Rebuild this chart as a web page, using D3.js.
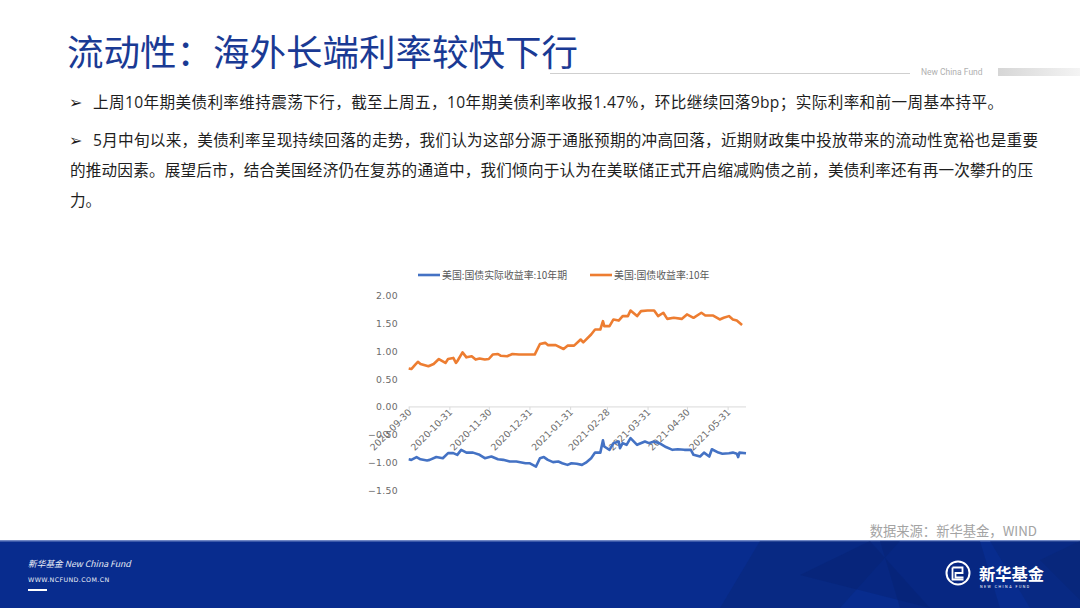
<!DOCTYPE html>
<html>
<head>
<meta charset="utf-8">
<script src="https://cdn.jsdelivr.net/npm/d3@7"></script>
<style>
  html, body { margin: 0; padding: 0; background: #fff; }
  svg { display: block; font-family: "Noto Sans CJK SC", "Noto Sans", sans-serif; }
</style>
</head>
<body>
<svg id="slide" width="1080" height="608"></svg>
<script>
const realDates = ['2020-09-30','2020-10-02','2020-10-06','2020-10-09','2020-10-14','2020-10-16','2020-10-21','2020-10-26','2020-10-30','2020-11-03','2020-11-06','2020-11-09','2020-11-13','2020-11-18','2020-11-23','2020-11-27','2020-12-02','2020-12-07','2020-12-11','2020-12-16','2020-12-21','2020-12-28','2020-12-31','2021-01-05','2021-01-08','2021-01-11','2021-01-14','2021-01-18','2021-01-22','2021-01-25','2021-01-29','2021-02-01','2021-02-05','2021-02-09','2021-02-12','2021-02-16','2021-02-19','2021-02-23','2021-02-25','2021-02-26','2021-03-02','2021-03-05','2021-03-09','2021-03-10','2021-03-12','2021-03-15','2021-03-18','2021-03-23','2021-03-29','2021-04-01','2021-04-05','2021-04-09','2021-04-14','2021-04-19','2021-04-23','2021-04-28','2021-05-03','2021-05-05','2021-05-10','2021-05-13','2021-05-17','2021-05-19','2021-05-24','2021-05-27','2021-06-01','2021-06-04','2021-06-07','2021-06-08','2021-06-09','2021-06-14'];
const realYield = [-0.94,-0.95,-0.90,-0.94,-0.96,-0.95,-0.90,-0.92,-0.83,-0.83,-0.86,-0.77,-0.82,-0.82,-0.86,-0.92,-0.89,-0.94,-0.95,-0.98,-0.98,-1.01,-1.01,-1.07,-0.92,-0.90,-0.95,-0.99,-0.98,-1.01,-1.04,-1.01,-1.02,-1.04,-1.00,-0.92,-0.82,-0.82,-0.60,-0.71,-0.77,-0.65,-0.62,-0.74,-0.65,-0.68,-0.56,-0.68,-0.62,-0.65,-0.62,-0.65,-0.72,-0.77,-0.76,-0.77,-0.77,-0.86,-0.89,-0.82,-0.89,-0.76,-0.82,-0.84,-0.83,-0.82,-0.84,-0.90,-0.82,-0.83];

const nomDates = ['2020-09-30','2020-10-02','2020-10-05','2020-10-07','2020-10-09','2020-10-15','2020-10-19','2020-10-23','2020-10-28','2020-10-30','2020-11-03','2020-11-05','2020-11-06','2020-11-10','2020-11-13','2020-11-17','2020-11-20','2020-11-23','2020-11-27','2020-11-30','2020-12-03','2020-12-07','2020-12-09','2020-12-14','2020-12-18','2020-12-23','2020-12-28','2021-01-04','2021-01-08','2021-01-12','2021-01-14','2021-01-20','2021-01-26','2021-01-29','2021-02-03','2021-02-08','2021-02-10','2021-02-16','2021-02-19','2021-02-23','2021-02-25','2021-02-26','2021-03-02','2021-03-05','2021-03-09','2021-03-12','2021-03-16','2021-03-18','2021-03-23','2021-03-26','2021-03-31','2021-04-05','2021-04-08','2021-04-12','2021-04-15','2021-04-20','2021-04-26','2021-04-30','2021-05-05','2021-05-11','2021-05-14','2021-05-20','2021-05-25','2021-05-28','2021-06-01','2021-06-04','2021-06-07','2021-06-11'];
const nomYield = [0.69,0.68,0.76,0.81,0.77,0.73,0.77,0.86,0.79,0.86,0.88,0.79,0.82,0.98,0.89,0.91,0.85,0.87,0.85,0.86,0.94,0.95,0.92,0.91,0.95,0.94,0.94,0.94,1.13,1.15,1.11,1.11,1.04,1.10,1.10,1.21,1.16,1.30,1.39,1.39,1.54,1.45,1.45,1.57,1.55,1.63,1.63,1.73,1.63,1.72,1.73,1.73,1.63,1.69,1.58,1.60,1.58,1.66,1.60,1.69,1.64,1.64,1.57,1.60,1.63,1.57,1.55,1.47];

const seriesNames = ['美国:国债实际收益率:10年期', '美国:国债收益率:10年'];
const yTicks = [2.00, 1.50, 1.00, 0.50, 0.00, -0.50, -1.00, -1.50];
const xTickDates = ['2020-09-30','2020-10-31','2020-11-30','2020-12-31','2021-01-31','2021-02-28','2021-03-31','2021-04-30','2021-05-31'];
const xDomain = ['2020-09-30', '2021-06-14'];

const titleText = '流动性：海外长端利率较快下行';
const bullet1 = ['上周10年期美债利率维持震荡下行，截至上周五，10年期美债利率收报1.47%，环比继续回落9bp；实际利率和前一周基本持平。'];
const bullet2 = [
  '5月中旬以来，美债利率呈现持续回落的走势，我们认为这部分源于通胀预期的冲高回落，近期财政集中投放带来的流动性宽裕也是重要',
  '的推动因素。展望后市，结合美国经济仍在复苏的通道中，我们倾向于认为在美联储正式开启缩减购债之前，美债利率还有再一次攀升的压',
  '力。'
];
const sourceText = '数据来源：新华基金，WIND';

const parse = d3.timeParse('%Y-%m-%d');
const svg = d3.select('#slide');
const chartFont = '"DejaVu Sans", sans-serif';

// ---------- header ----------
const defs = svg.append('defs');
const grad = defs.append('linearGradient').attr('id', 'hdrGrad');
grad.append('stop').attr('offset', '0%').attr('stop-color', '#d6d6d6');
grad.append('stop').attr('offset', '100%').attr('stop-color', '#f4f4f4');

svg.append('text')
  .attr('x', 67).attr('y', 66)
  .attr('font-size', 36.5)
  .attr('fill', '#1a3a94')
  .text(titleText);

svg.append('line').attr('x1', 550).attr('x2', 910).attr('y1', 73.5).attr('y2', 73.5)
  .attr('stroke', '#cfcfcf').attr('stroke-width', 1);
svg.append('text').attr('x', 921).attr('y', 75)
  .attr('font-size', 8.5).attr('fill', '#b0b0b0')
  .attr('font-family', 'Roboto, sans-serif')
  .text('New China Fund');
svg.append('rect').attr('x', 998).attr('y', 68).attr('width', 82).attr('height', 8)
  .attr('fill', 'url(#hdrGrad)');

// ---------- bullets ----------
const bodyG = svg.append('g').attr('fill', '#1e1e1e').attr('font-size', 15.6)
  .attr('font-family', '"Open Sans", "Noto Sans CJK SC", sans-serif');
const arrow = (yy) => bodyG.append('text').attr('x', 69).attr('y', yy)
  .attr('font-size', 16).attr('font-family', '"DejaVu Sans", sans-serif').text('➢');
arrow(108);
bodyG.append('text').attr('x', 93).attr('y', 108)
  .attr('textLength', 910).attr('lengthAdjust', 'spacing')
  .text(bullet1[0]);
arrow(146);
const b2Len = [945, 963, null];
bullet2.forEach((line, i) => {
  const t = bodyG.append('text')
    .attr('x', i === 0 ? 93 : 70)
    .attr('y', 146 + i * 30)
    .text(line);
  if (b2Len[i]) t.attr('textLength', b2Len[i]).attr('lengthAdjust', 'spacing');
});

// ---------- chart ----------
const x = d3.scaleTime().domain(xDomain.map(parse)).range([408.7, 746]);
const y = d3.scaleLinear().domain([-1.5, 2.0]).range([490.5, 295.5]);

const chart = svg.append('g');

// y labels
chart.append('g').selectAll('text')
  .data(yTicks).join('text')
  .attr('x', 398).attr('y', d => y(d) + 3.5)
  .attr('text-anchor', 'end')
  .attr('font-size', 9.3)
  .attr('letter-spacing', 0.3)
  .attr('font-family', chartFont)
  .attr('fill', '#6b6b6b')
  .text(d => d3.format('.2f')(d));

// x axis at zero
const xAxis = d3.axisBottom(x)
  .tickValues(xTickDates.map(parse))
  .tickSize(3)
  .tickFormat(d3.timeFormat('%Y-%m-%d'));
const axG = chart.append('g').attr('transform', `translate(0,${y(0)})`).call(xAxis);
axG.select('.domain').attr('stroke', '#d9d9d9').attr('d', `M${x.range()[0]},0H${x.range()[1]}`);
axG.selectAll('.tick line').attr('stroke', '#d9d9d9');
axG.selectAll('.tick text')
  .attr('fill', '#6b6b6b')
  .attr('font-size', 9.3)
  .attr('font-family', chartFont)
  .attr('text-anchor', 'end')
  .attr('dy', null)
  .attr('y', 0)
  .attr('transform', 'translate(3,6) rotate(-45)');

// lines
const line = d3.line().x(d => x(d.date)).y(d => y(d.value));
const realData = realDates.map((d, i) => ({ date: parse(d), value: realYield[i] }));
const nomData = nomDates.map((d, i) => ({ date: parse(d), value: nomYield[i] }));
const colors = ['#4472c4', '#ed7d31'];

chart.append('path').datum(realData)
  .attr('d', line).attr('fill', 'none')
  .attr('stroke', colors[0]).attr('stroke-width', 2.6).attr('stroke-linejoin', 'round');
chart.append('path').datum(nomData)
  .attr('d', line).attr('fill', 'none')
  .attr('stroke', colors[1]).attr('stroke-width', 2.6).attr('stroke-linejoin', 'round');

// legend
const legend = chart.append('g').attr('font-size', 9.9).attr('fill', '#595959');
const legendX = [418, 590];
seriesNames.forEach((name, i) => {
  legend.append('line').attr('x1', legendX[i]).attr('x2', legendX[i] + 22)
    .attr('y1', 275).attr('y2', 275)
    .attr('stroke', colors[i]).attr('stroke-width', 2.6);
  legend.append('text').attr('x', legendX[i] + 24).attr('y', 278.5).text(name);
});

// ---------- footer ----------
svg.append('text').attr('x', 1037).attr('y', 536)
  .attr('text-anchor', 'end').attr('font-size', 13.3).attr('fill', '#a3a3a3')
  .text(sourceText);

const foot = svg.append('g');
foot.append('rect').attr('x', 0).attr('y', 540).attr('width', 1080).attr('height', 68).attr('fill', '#082c8e');
foot.append('rect').attr('x', 0).attr('y', 540).attr('width', 1080).attr('height', 1.5).attr('fill', '#6f86c4');
// darker facets on the right side
const facets = [
  [[760,541],[900,541],[840,608],[720,608]],
  [[880,541],[980,541],[1000,608],[900,608]],
  [[990,541],[1080,541],[1080,608],[1030,608]],
  [[800,575],[870,541],[930,608]],
  [[1040,560],[1080,541],[1080,600]]
];
foot.selectAll('polygon.facet').data(facets).join('polygon')
  .attr('class', 'facet')
  .attr('points', d => d.map(p => p.join(',')).join(' '))
  .attr('fill', (d, i) => i % 2 ? '#051f6e' : '#0a246f')
  .attr('opacity', 0.35);

foot.append('text').attr('x', 28).attr('y', 567)
  .attr('font-size', 8.7).attr('font-style', 'italic').attr('fill', '#e8ecf6')
  .text('新华基金 New China Fund');
foot.append('text').attr('x', 28).attr('y', 582)
  .attr('font-size', 6.3).attr('letter-spacing', 0.4).attr('fill', '#e8ecf6')
  .attr('font-family', '"DejaVu Sans", sans-serif')
  .text('WWW.NCFUND.COM.CN');
foot.append('rect').attr('x', 28).attr('y', 589).attr('width', 19).attr('height', 2).attr('fill', '#ffffff');

// logo
const logo = foot.append('g').attr('transform', 'translate(958,573)');
logo.append('circle').attr('r', 11.5).attr('fill', 'none').attr('stroke', '#fff').attr('stroke-width', 2);
logo.append('path').attr('d', 'M-5.5,-5.5H4.5V0H-2.5V4.5H5.5').attr('fill', 'none').attr('stroke', '#fff').attr('stroke-width', 1.8);
logo.append('path').attr('d', 'M-5.5,-5.5V6.5H5.5').attr('fill', 'none').attr('stroke', '#fff').attr('stroke-width', 1.8);
foot.append('text').attr('x', 979).attr('y', 580)
  .attr('font-size', 16.3).attr('font-weight', 'bold').attr('fill', '#fff')
  .text('新华基金');
foot.append('text').attr('x', 980).attr('y', 587.5)
  .attr('font-size', 3.6).attr('letter-spacing', 1.5).attr('fill', '#fff')
  .attr('font-family', 'Roboto, sans-serif')
  .text('NEW  CHINA  FUND');
</script>
</body>
</html>
